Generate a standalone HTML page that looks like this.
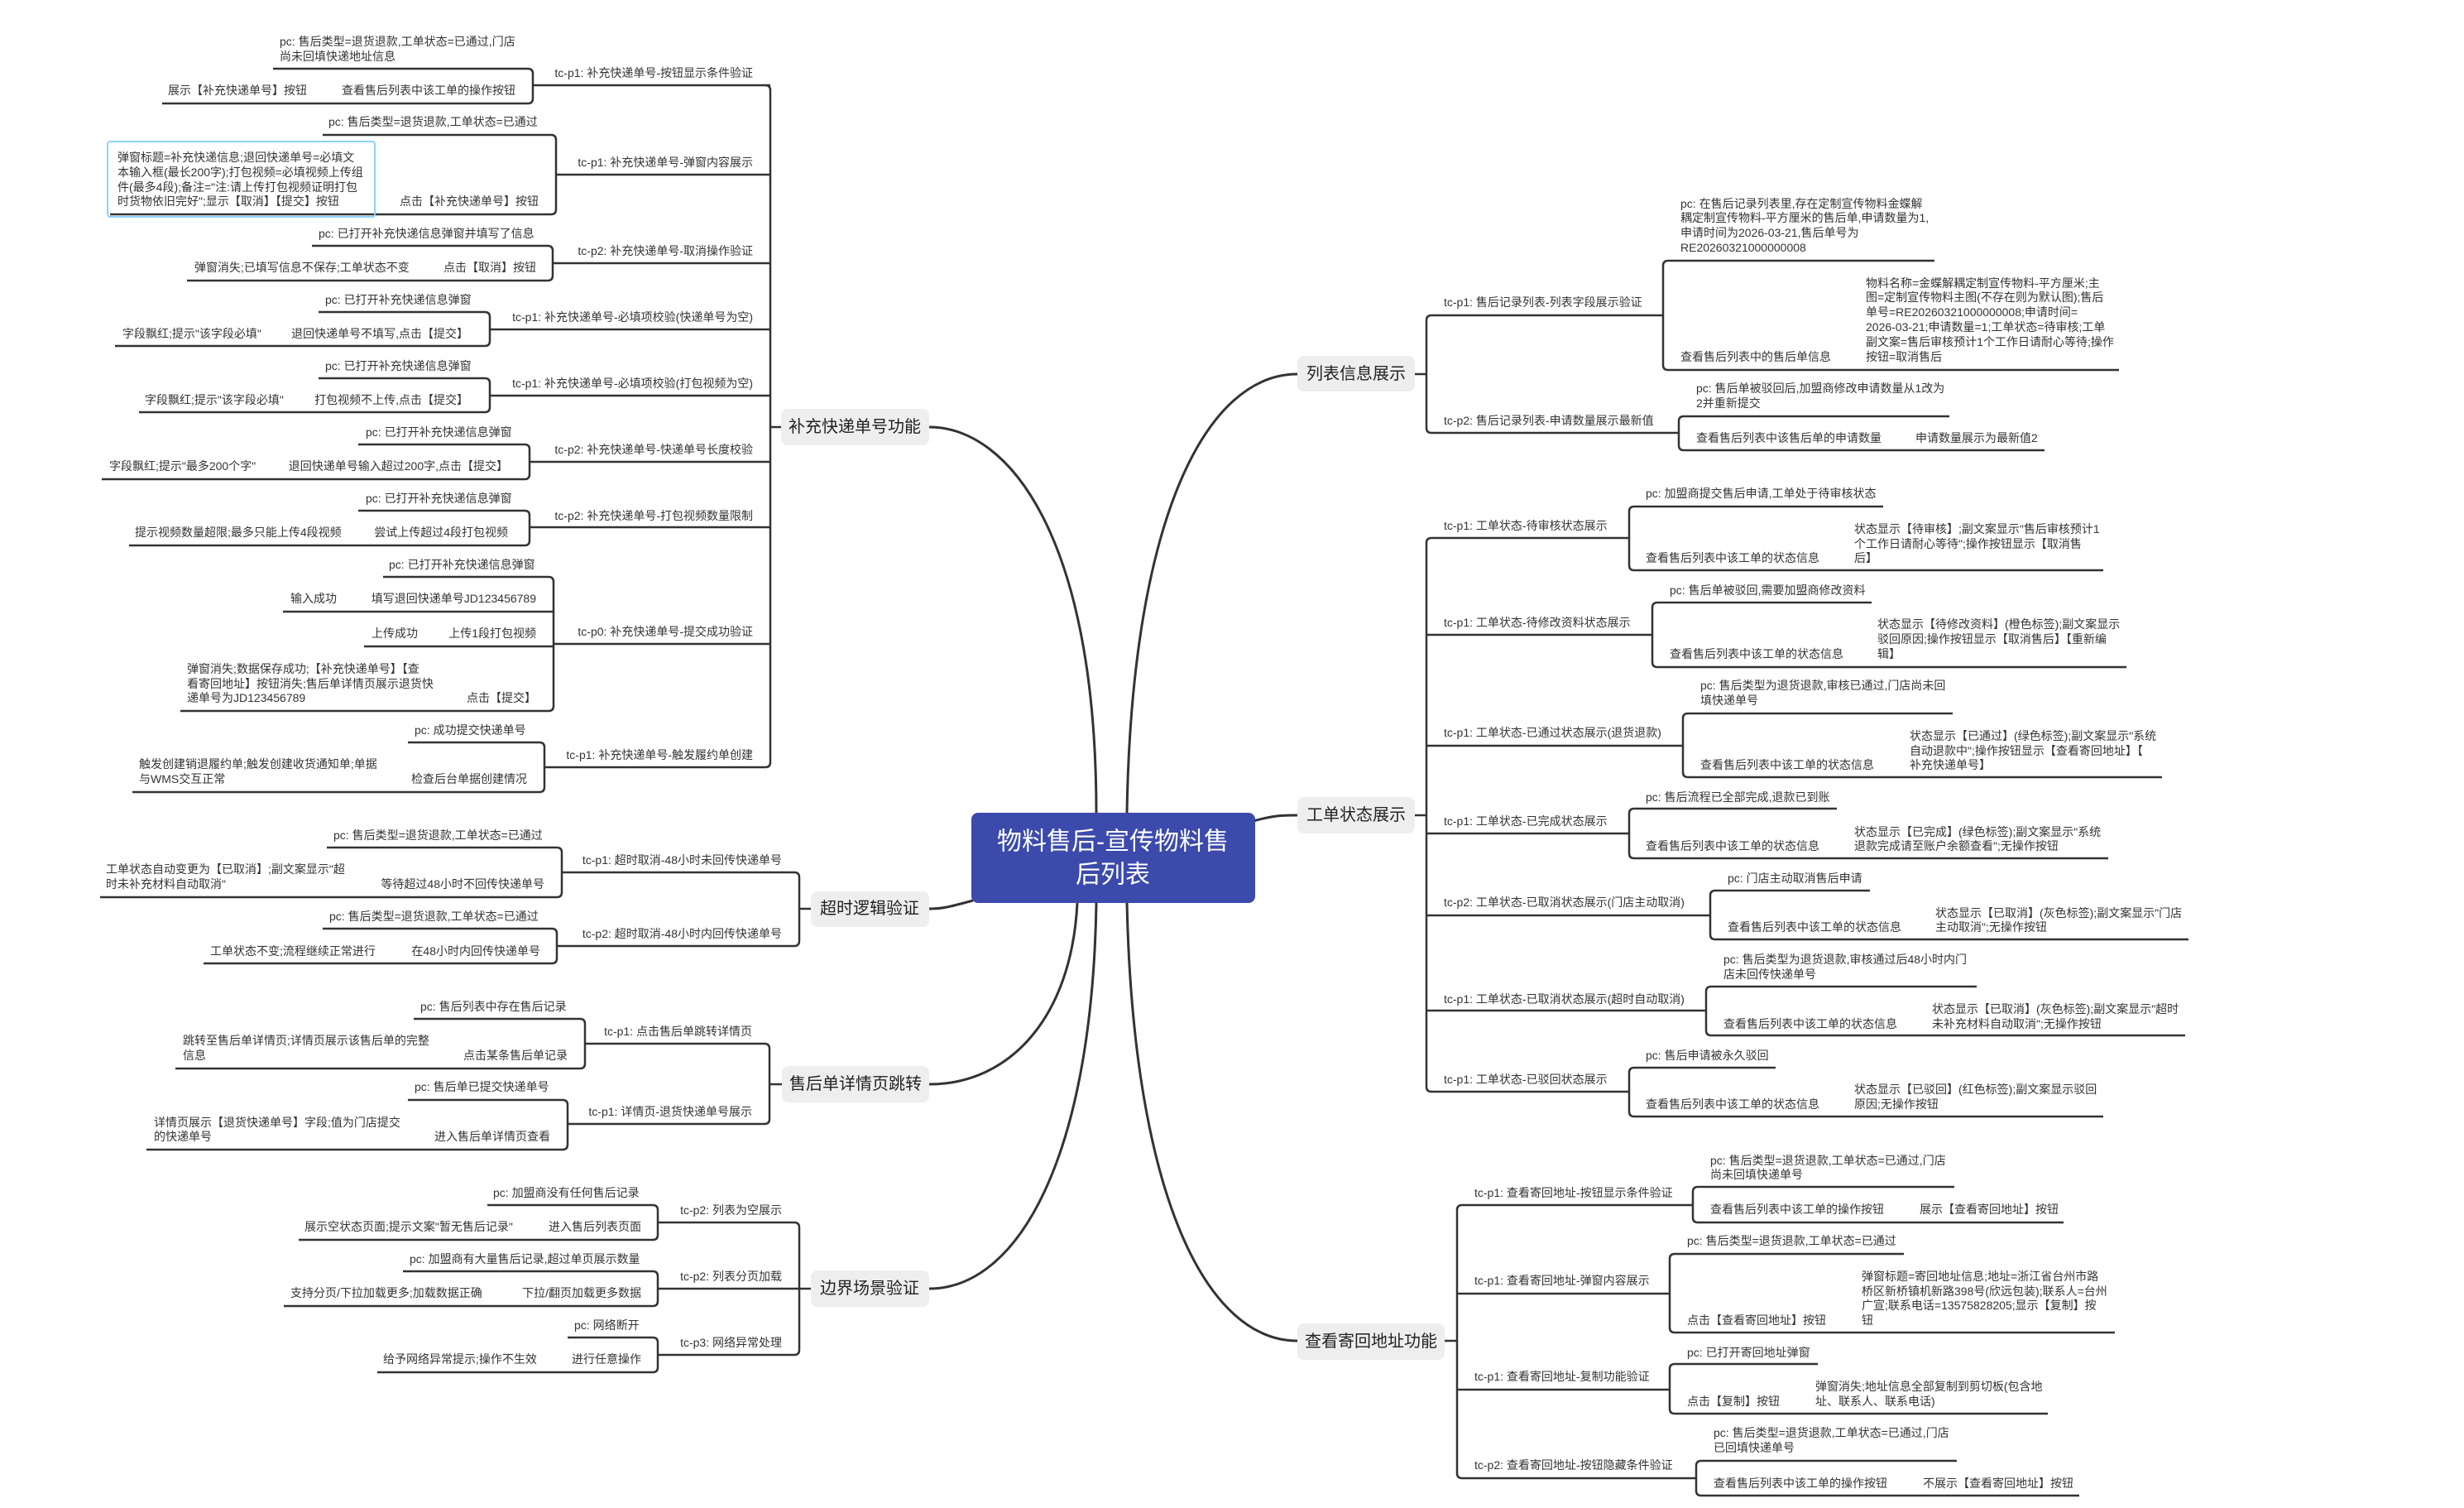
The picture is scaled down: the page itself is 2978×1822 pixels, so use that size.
<!DOCTYPE html>
<html><head><meta charset="utf-8">
<style>
html,body{margin:0;padding:0;background:#fff;}
svg{display:block;}
text{font-family:"Liberation Sans","Noto Sans CJK SC",sans-serif;font-size:14px;fill:#333;dominant-baseline:central;}
.e{text-anchor:end;}
.m{text-anchor:middle;font-size:20px;fill:#222;}
.t{text-anchor:middle;font-size:30px;fill:#fff;}
path{fill:none;stroke:#333;stroke-width:2.5;}
.c{stroke-width:3;}
</style></head><body>
<svg width="2978" height="1822" viewBox="0 0 2978 1822" xmlns="http://www.w3.org/2000/svg">
<!-- main connectors -->
<path class="c" d="M1325,982 C1325,650 1220,516 1123,516"/>
<path class="c" d="M1176,1088 C1150,1095 1140,1098 1123,1098"/>
<path class="c" d="M1302,1091 C1295,1230 1220,1310 1123,1310"/>
<path class="c" d="M1325,1091 C1320,1400 1230,1557 1123,1557"/>
<path class="c" d="M1362,982 C1368,620 1460,452 1568,452"/>
<path class="c" d="M1515,992 C1540,985 1550,985 1568,985"/>
<path class="c" d="M1362,1091 C1370,1450 1460,1620 1568,1620"/>

<rect x="1174" y="982" width="343" height="109" rx="8" fill="#3b4aab"/>
<text class="t" x="1345" y="1017">物料售后-宣传物料售</text>
<text class="t" x="1345" y="1057">后列表</text>

<!-- branch nodes -->
<rect x="944" y="494" width="179" height="44" rx="8" fill="#eeeeee"/><text class="m" x="1033" y="516">补充快递单号功能</text>
<rect x="980" y="1077" width="143" height="43" rx="8" fill="#eeeeee"/><text class="m" x="1051" y="1098">超时逻辑验证</text>
<rect x="945" y="1288" width="178" height="44" rx="8" fill="#eeeeee"/><text class="m" x="1034" y="1310">售后单详情页跳转</text>
<rect x="980" y="1535" width="143" height="44" rx="8" fill="#eeeeee"/><text class="m" x="1051" y="1557">边界场景验证</text>
<rect x="1568" y="430" width="142" height="43" rx="8" fill="#eeeeee"/><text class="m" x="1639" y="452">列表信息展示</text>
<rect x="1568" y="963" width="142" height="44" rx="8" fill="#eeeeee"/><text class="m" x="1639" y="985">工单状态展示</text>
<rect x="1568" y="1599" width="178" height="44" rx="8" fill="#eeeeee"/><text class="m" x="1657" y="1621">查看寄回地址功能</text>

<!-- ===== 补充快递单号功能 ===== -->
<path d="M944,516 H931"/>
<path d="M925,103 Q931,103 931,109 V921 Q931,927 925,927"/>
<!-- A -->
<path d="M644,103 H931"/>
<path d="M330,83 H638 Q644,83 644,89 V119 Q644,125 638,125 H196"/>
<text class="e" x="910" y="88">tc-p1: 补充快递单号-按钮显示条件验证</text>
<text x="338" y="50">pc: 售后类型=退货退款,工单状态=已通过,门店</text>
<text x="338" y="68">尚未回填快递地址信息</text>
<text class="e" x="623" y="109">查看售后列表中该工单的操作按钮</text>
<text x="203" y="109">展示【补充快递单号】按钮</text>
<!-- B -->
<path d="M672,211 H931"/>
<path d="M390,163 H666 Q672,163 672,169 V253 Q672,259 666,259 H133"/>
<rect x="130" y="171" width="323" height="91" rx="3" fill="none" stroke="#8fd3f7" stroke-width="2"/>
<text class="e" x="910" y="196">tc-p1: 补充快递单号-弹窗内容展示</text>
<text x="397" y="147">pc: 售后类型=退货退款,工单状态=已通过</text>
<text class="e" x="651" y="243">点击【补充快递单号】按钮</text>
<text x="142" y="190">弹窗标题=补充快递信息;退回快递单号=必填文</text>
<text x="142" y="208">本输入框(最长200字);打包视频=必填视频上传组</text>
<text x="142" y="226">件(最多4段);备注="注:请上传打包视频证明打包</text>
<text x="142" y="243">时货物依旧完好";显示【取消】【提交】按钮</text>
<!-- C -->
<path d="M668,318 H931"/>
<path d="M377,297 H662 Q668,297 668,303 V333 Q668,339 662,339 H226"/>
<text class="e" x="910" y="303">tc-p2: 补充快递单号-取消操作验证</text>
<text x="385" y="282">pc: 已打开补充快递信息弹窗并填写了信息</text>
<text class="e" x="648" y="323">点击【取消】按钮</text>
<text x="235" y="323">弹窗消失;已填写信息不保存;工单状态不变</text>
<!-- D -->
<path d="M592,398 H931"/>
<path d="M385,377 H586 Q592,377 592,383 V412 Q592,418 586,418 H139"/>
<text class="e" x="910" y="383">tc-p1: 补充快递单号-必填项校验(快递单号为空)</text>
<text x="393" y="362">pc: 已打开补充快递信息弹窗</text>
<text class="e" x="566" y="403">退回快递单号不填写,点击【提交】</text>
<text x="148" y="403">字段飘红;提示"该字段必填"</text>
<!-- E -->
<path d="M592,478 H931"/>
<path d="M385,457 H586 Q592,457 592,463 V492 Q592,498 586,498 H168"/>
<text class="e" x="910" y="463">tc-p1: 补充快递单号-必填项校验(打包视频为空)</text>
<text x="393" y="442">pc: 已打开补充快递信息弹窗</text>
<text class="e" x="566" y="483">打包视频不上传,点击【提交】</text>
<text x="175" y="483">字段飘红;提示"该字段必填"</text>
<!-- F -->
<path d="M640,558 H931"/>
<path d="M433,537 H634 Q640,537 640,543 V573 Q640,579 634,579 H123"/>
<text class="e" x="910" y="543">tc-p2: 补充快递单号-快递单号长度校验</text>
<text x="442" y="522">pc: 已打开补充快递信息弹窗</text>
<text class="e" x="614" y="563">退回快递单号输入超过200字,点击【提交】</text>
<text x="132" y="563">字段飘红;提示"最多200个字"</text>
<!-- G -->
<path d="M640,637 H931"/>
<path d="M433,617 H634 Q640,617 640,623 V653 Q640,659 634,659 H156"/>
<text class="e" x="910" y="623">tc-p2: 补充快递单号-打包视频数量限制</text>
<text x="442" y="602">pc: 已打开补充快递信息弹窗</text>
<text class="e" x="614" y="643">尝试上传超过4段打包视频</text>
<text x="163" y="643">提示视频数量超限;最多只能上传4段视频</text>
<!-- H -->
<path d="M669,778 H931"/>
<path d="M463,697 H663 Q669,697 669,703 V853 Q669,859 663,859 H218"/>
<path d="M669,739 H342"/>
<path d="M669,781 H440"/>
<text class="e" x="910" y="763">tc-p0: 补充快递单号-提交成功验证</text>
<text x="470" y="682">pc: 已打开补充快递信息弹窗</text>
<text class="e" x="648" y="723">填写退回快递单号JD123456789</text>
<text x="351" y="723">输入成功</text>
<text class="e" x="648" y="765">上传1段打包视频</text>
<text x="449" y="765">上传成功</text>
<text class="e" x="648" y="843">点击【提交】</text>
<text x="226" y="808">弹窗消失;数据保存成功;【补充快递单号】【查</text>
<text x="226" y="826">看寄回地址】按钮消失;售后单详情页展示退货快</text>
<text x="226" y="843">递单号为JD123456789</text>
<!-- I -->
<path d="M658,927 H925"/>
<path d="M493,897 H652 Q658,897 658,903 V951 Q658,957 652,957 H160"/>
<text class="e" x="910" y="912">tc-p1: 补充快递单号-触发履约单创建</text>
<text x="501" y="882">pc: 成功提交快递单号</text>
<text class="e" x="637" y="941">检查后台单据创建情况</text>
<text x="168" y="923">触发创建销退履约单;触发创建收货通知单;单据</text>
<text x="168" y="941">与WMS交互正常</text>

<!-- ===== 超时逻辑验证 ===== -->
<path d="M980,1098 H966"/>
<path d="M960,1054 Q966,1054 966,1060 V1137 Q966,1143 960,1143"/>
<path d="M679,1054 H960"/>
<path d="M395,1024 H673 Q679,1024 679,1030 V1078 Q679,1084 673,1084 H121"/>
<text class="e" x="945" y="1039">tc-p1: 超时取消-48小时未回传快递单号</text>
<text x="403" y="1009">pc: 售后类型=退货退款,工单状态=已通过</text>
<text class="e" x="658" y="1068">等待超过48小时不回传快递单号</text>
<text x="128" y="1050">工单状态自动变更为【已取消】;副文案显示"超</text>
<text x="128" y="1068">时未补充材料自动取消"</text>
<path d="M673,1143 H960"/>
<path d="M390,1122 H667 Q673,1122 673,1128 V1158 Q673,1164 667,1164 H246"/>
<text class="e" x="945" y="1128">tc-p2: 超时取消-48小时内回传快递单号</text>
<text x="398" y="1107">pc: 售后类型=退货退款,工单状态=已通过</text>
<text class="e" x="653" y="1149">在48小时内回传快递单号</text>
<text x="254" y="1149">工单状态不变;流程继续正常进行</text>

<!-- ===== 售后单详情页跳转 ===== -->
<path d="M945,1310 H930"/>
<path d="M924,1261 Q930,1261 930,1267 V1352 Q930,1358 924,1358"/>
<path d="M707,1261 H924"/>
<path d="M500,1231 H701 Q707,1231 707,1237 V1285 Q707,1291 701,1291 H212"/>
<text class="e" x="909" y="1246">tc-p1: 点击售后单跳转详情页</text>
<text x="508" y="1216">pc: 售后列表中存在售后记录</text>
<text class="e" x="686" y="1275">点击某条售后单记录</text>
<text x="221" y="1257">跳转至售后单详情页;详情页展示该售后单的完整</text>
<text x="221" y="1275">信息</text>
<path d="M686,1358 H924"/>
<path d="M493,1329 H680 Q686,1329 686,1335 V1383 Q686,1389 680,1389 H177"/>
<text class="e" x="909" y="1343">tc-p1: 详情页-退货快递单号展示</text>
<text x="501" y="1313">pc: 售后单已提交快递单号</text>
<text class="e" x="665" y="1373">进入售后单详情页查看</text>
<text x="186" y="1356">详情页展示【退货快递单号】字段;值为门店提交</text>
<text x="186" y="1373">的快递单号</text>

<!-- ===== 边界场景验证 ===== -->
<path d="M980,1557 H795"/>
<path d="M960,1477 Q966,1477 966,1483 V1631 Q966,1637 960,1637"/>
<path d="M795,1477 H960"/>
<path d="M589,1456 H789 Q795,1456 795,1462 V1492 Q795,1498 789,1498 H361"/>
<text class="e" x="945" y="1462">tc-p2: 列表为空展示</text>
<text x="596" y="1441">pc: 加盟商没有任何售后记录</text>
<text class="e" x="775" y="1482">进入售后列表页面</text>
<text x="368" y="1482">展示空状态页面;提示文案"暂无售后记录"</text>
<path d="M487,1536 H789 Q795,1536 795,1542 V1572 Q795,1578 789,1578 H343"/>
<text class="e" x="945" y="1542">tc-p2: 列表分页加载</text>
<text x="495" y="1521">pc: 加盟商有大量售后记录,超过单页展示数量</text>
<text class="e" x="775" y="1562">下拉/翻页加载更多数据</text>
<text x="351" y="1562">支持分页/下拉加载更多;加载数据正确</text>
<path d="M795,1637 H960"/>
<path d="M686,1616 H789 Q795,1616 795,1622 V1652 Q795,1658 789,1658 H456"/>
<text class="e" x="945" y="1622">tc-p3: 网络异常处理</text>
<text x="694" y="1601">pc: 网络断开</text>
<text class="e" x="775" y="1642">进行任意操作</text>
<text x="463" y="1642">给予网络异常提示;操作不生效</text>

<!-- ===== 列表信息展示 ===== -->
<path d="M1710,452 H1724"/>
<path d="M1730,381 Q1724,381 1724,387 V517 Q1724,523 1730,523"/>
<path d="M1730,381 H2010"/>
<path d="M2338,315 H2016 Q2010,315 2010,321 V441 Q2010,447 2016,447 H2561"/>
<text x="1745" y="365">tc-p1: 售后记录列表-列表字段展示验证</text>
<text x="2031" y="246">pc: 在售后记录列表里,存在定制宣传物料金蝶解</text>
<text x="2031" y="263">耦定制宣传物料-平方厘米的售后单,申请数量为1,</text>
<text x="2031" y="281">申请时间为2026-03-21,售后单号为</text>
<text x="2031" y="299">RE20260321000000008</text>
<text x="2031" y="431">查看售后列表中的售后单信息</text>
<text x="2255" y="342">物料名称=金蝶解耦定制宣传物料-平方厘米;主</text>
<text x="2255" y="359">图=定制宣传物料主图(不存在则为默认图);售后</text>
<text x="2255" y="377">单号=RE20260321000000008;申请时间=</text>
<text x="2255" y="395">2026-03-21;申请数量=1;工单状态=待审核;工单</text>
<text x="2255" y="413">副文案=售后审核预计1个工作日请耐心等待;操作</text>
<text x="2255" y="431">按钮=取消售后</text>
<path d="M1730,523 H2029"/>
<path d="M2356,503 H2035 Q2029,503 2029,509 V538 Q2029,544 2035,544 H2471"/>
<text x="1745" y="508">tc-p2: 售后记录列表-申请数量展示最新值</text>
<text x="2050" y="469">pc: 售后单被驳回后,加盟商修改申请数量从1改为</text>
<text x="2050" y="487">2并重新提交</text>
<text x="2050" y="529">查看售后列表中该售后单的申请数量</text>
<text x="2315" y="529">申请数量展示为最新值2</text>

<!-- ===== 工单状态展示 ===== -->
<path d="M1710,985 H1724"/>
<path d="M1730,650 Q1724,650 1724,656 V1313 Q1724,1319 1730,1319"/>
<path d="M1730,650 H1969"/>
<path d="M2276,612 H1975 Q1969,612 1969,618 V683 Q1969,689 1975,689 H2542"/>
<text x="1745" y="635">tc-p1: 工单状态-待审核状态展示</text>
<text x="1989" y="596">pc: 加盟商提交售后申请,工单处于待审核状态</text>
<text x="1989" y="674">查看售后列表中该工单的状态信息</text>
<text x="2241" y="639">状态显示【待审核】;副文案显示"售后审核预计1</text>
<text x="2241" y="657">个工作日请耐心等待";操作按钮显示【取消售</text>
<text x="2241" y="674">后】</text>
<path d="M1724,767 H1997"/>
<path d="M2262,728 H2003 Q1997,728 1997,734 V800 Q1997,806 2003,806 H2570"/>
<text x="1745" y="752">tc-p1: 工单状态-待修改资料状态展示</text>
<text x="2018" y="713">pc: 售后单被驳回,需要加盟商修改资料</text>
<text x="2018" y="790">查看售后列表中该工单的状态信息</text>
<text x="2269" y="754">状态显示【待修改资料】(橙色标签);副文案显示</text>
<text x="2269" y="772">驳回原因;操作按钮显示【取消售后】【重新编</text>
<text x="2269" y="790">辑】</text>
<path d="M1724,901 H2034"/>
<path d="M2360,862 H2040 Q2034,862 2034,868 V933 Q2034,939 2040,939 H2613"/>
<text x="1745" y="885">tc-p1: 工单状态-已通过状态展示(退货退款)</text>
<text x="2055" y="828">pc: 售后类型为退货退款,审核已通过,门店尚未回</text>
<text x="2055" y="846">填快递单号</text>
<text x="2055" y="924">查看售后列表中该工单的状态信息</text>
<text x="2308" y="889">状态显示【已通过】(绿色标签);副文案显示"系统</text>
<text x="2308" y="907">自动退款中";操作按钮显示【查看寄回地址】【</text>
<text x="2308" y="924">补充快递单号】</text>
<path d="M1724,1007 H1969"/>
<path d="M2220,977 H1975 Q1969,977 1969,983 V1031 Q1969,1037 1975,1037 H2548"/>
<text x="1745" y="992">tc-p1: 工单状态-已完成状态展示</text>
<text x="1989" y="963">pc: 售后流程已全部完成,退款已到账</text>
<text x="1989" y="1022">查看售后列表中该工单的状态信息</text>
<text x="2241" y="1005">状态显示【已完成】(绿色标签);副文案显示"系统</text>
<text x="2241" y="1022">退款完成请至账户余额查看";无操作按钮</text>
<path d="M1724,1106 H2067"/>
<path d="M2260,1076 H2073 Q2067,1076 2067,1082 V1129 Q2067,1135 2073,1135 H2645"/>
<text x="1745" y="1090">tc-p2: 工单状态-已取消状态展示(门店主动取消)</text>
<text x="2088" y="1061">pc: 门店主动取消售后申请</text>
<text x="2088" y="1120">查看售后列表中该工单的状态信息</text>
<text x="2339" y="1103">状态显示【已取消】(灰色标签);副文案显示"门店</text>
<text x="2339" y="1120">主动取消";无操作按钮</text>
<path d="M1724,1221 H2062"/>
<path d="M2389,1192 H2068 Q2062,1192 2062,1198 V1245 Q2062,1251 2068,1251 H2641"/>
<text x="1745" y="1207">tc-p1: 工单状态-已取消状态展示(超时自动取消)</text>
<text x="2083" y="1159">pc: 售后类型为退货退款,审核通过后48小时内门</text>
<text x="2083" y="1177">店未回传快递单号</text>
<text x="2083" y="1237">查看售后列表中该工单的状态信息</text>
<text x="2335" y="1219">状态显示【已取消】(灰色标签);副文案显示"超时</text>
<text x="2335" y="1237">未补充材料自动取消";无操作按钮</text>
<path d="M1730,1319 H1969"/>
<path d="M2146,1290 H1975 Q1969,1290 1969,1296 V1343 Q1969,1349 1975,1349 H2542"/>
<text x="1745" y="1304">tc-p1: 工单状态-已驳回状态展示</text>
<text x="1989" y="1275">pc: 售后申请被永久驳回</text>
<text x="1989" y="1334">查看售后列表中该工单的状态信息</text>
<text x="2241" y="1316">状态显示【已驳回】(红色标签);副文案显示驳回</text>
<text x="2241" y="1334">原因;无操作按钮</text>

<!-- ===== 查看寄回地址功能 ===== -->
<path d="M1746,1620 H1761"/>
<path d="M1767,1456 Q1761,1456 1761,1462 V1780 Q1761,1786 1767,1786"/>
<path d="M1767,1456 H2046"/>
<path d="M2362,1434 H2052 Q2046,1434 2046,1440 V1471 Q2046,1477 2052,1477 H2494"/>
<text x="1782" y="1441">tc-p1: 查看寄回地址-按钮显示条件验证</text>
<text x="2067" y="1402">pc: 售后类型=退货退款,工单状态=已通过,门店</text>
<text x="2067" y="1419">尚未回填快递单号</text>
<text x="2067" y="1461">查看售后列表中该工单的操作按钮</text>
<text x="2320" y="1461">展示【查看寄回地址】按钮</text>
<path d="M1761,1563 H2018"/>
<path d="M2301,1515 H2024 Q2018,1515 2018,1521 V1604 Q2018,1610 2024,1610 H2556"/>
<text x="1782" y="1547">tc-p1: 查看寄回地址-弹窗内容展示</text>
<text x="2039" y="1499">pc: 售后类型=退货退款,工单状态=已通过</text>
<text x="2039" y="1595">点击【查看寄回地址】按钮</text>
<text x="2250" y="1542">弹窗标题=寄回地址信息;地址=浙江省台州市路</text>
<text x="2250" y="1560">桥区新桥镇机新路398号(欣远包装);联系人=台州</text>
<text x="2250" y="1577">广宣;联系电话=13575828205;显示【复制】按</text>
<text x="2250" y="1595">钮</text>
<path d="M1761,1679 H2018"/>
<path d="M2197,1648 H2024 Q2018,1648 2018,1654 V1702 Q2018,1708 2024,1708 H2475"/>
<text x="1782" y="1663">tc-p1: 查看寄回地址-复制功能验证</text>
<text x="2039" y="1634">pc: 已打开寄回地址弹窗</text>
<text x="2039" y="1693">点击【复制】按钮</text>
<text x="2194" y="1675">弹窗消失;地址信息全部复制到剪切板(包含地</text>
<text x="2194" y="1693">址、联系人、联系电话)</text>
<path d="M1767,1786 H2050"/>
<path d="M2365,1765 H2056 Q2050,1765 2050,1771 V1801 Q2050,1807 2056,1807 H2513"/>
<text x="1782" y="1770">tc-p2: 查看寄回地址-按钮隐藏条件验证</text>
<text x="2071" y="1731">pc: 售后类型=退货退款,工单状态=已通过,门店</text>
<text x="2071" y="1749">已回填快递单号</text>
<text x="2071" y="1792">查看售后列表中该工单的操作按钮</text>
<text x="2324" y="1792">不展示【查看寄回地址】按钮</text>
</svg>
</body></html>
